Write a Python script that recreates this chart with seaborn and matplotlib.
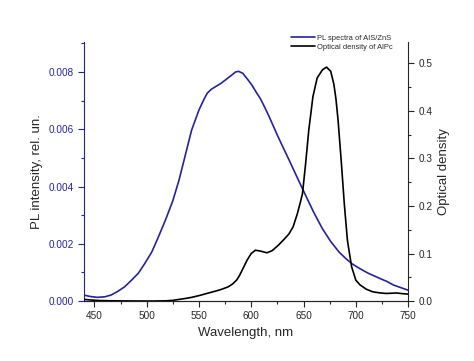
import numpy as np
import pandas as pd
import seaborn as sns
import matplotlib.pyplot as plt
from matplotlib.ticker import MultipleLocator

# PL spectrum of AIS/ZnS (left axis)
pl_wl = [440, 446, 453, 460, 466, 472, 479, 485, 492, 498, 505, 511, 518, 525,
         531, 537, 543, 550, 555, 558, 562, 566, 571, 576, 581, 585, 588, 592,
         597, 601, 605, 609, 613, 617, 621, 625, 630, 636, 644, 652, 660, 668,
         676, 684, 690, 696, 704, 712, 723, 730, 736, 743, 750]
pl_val = [0.00021, 0.00016, 0.00013, 0.00015, 0.00021, 0.00033, 0.00050, 0.00071,
          0.00097, 0.00130, 0.00172, 0.00222, 0.00283, 0.00350, 0.00423, 0.00510,
          0.00597, 0.00667, 0.00706, 0.00726, 0.00740, 0.00749, 0.00760, 0.00774,
          0.00788, 0.00800, 0.00802, 0.00795, 0.00772, 0.00752, 0.00728, 0.00705,
          0.00676, 0.00645, 0.00612, 0.00579, 0.00540, 0.00494, 0.00431, 0.00369,
          0.00308, 0.00253, 0.00208, 0.00171, 0.00150, 0.00131, 0.00113, 0.00097,
          0.00079, 0.00068, 0.00056, 0.00047, 0.00038]

# Optical density of AlPc (right axis)
od_wl = [440, 448, 456, 470, 490, 505, 518, 525, 531, 537, 543, 551, 560, 566,
         572, 578, 582, 586, 589, 592, 596, 600, 604, 609, 615, 620, 626, 631,
         636, 640, 644, 647, 649, 652, 655, 659, 663, 668, 672, 676, 679, 681,
         683, 686, 689, 692, 696, 700, 704, 710, 716, 722, 729, 734, 739, 745, 750]
od_val = [0.0035, 0.002, 0.001, 0.0005, 0.0002, 0.0001, 0.0005, 0.0015, 0.0035,
          0.0055, 0.0078, 0.0120, 0.0175, 0.0210, 0.0250, 0.0300, 0.0357, 0.0440,
          0.0546, 0.0680, 0.0860, 0.1000, 0.1070, 0.1050, 0.1015, 0.1060, 0.1176,
          0.1290, 0.1410, 0.1560, 0.1830, 0.2080, 0.2260, 0.2890, 0.3590, 0.4300,
          0.4690, 0.4860, 0.4920, 0.4830, 0.4560, 0.4250, 0.3810, 0.2960, 0.2040,
          0.1270, 0.0720, 0.0440, 0.0340, 0.0250, 0.0196, 0.0175, 0.0160, 0.0165,
          0.0170, 0.0155, 0.0147]

blue = "#24239c"

sns.set_style("ticks")
plt.rcParams["font.family"] = ["Liberation Sans", "DejaVu Sans"]

df_pl = pd.DataFrame({"wl": pl_wl, "val": pl_val})
df_od = pd.DataFrame({"wl": od_wl, "val": od_val})

fig = plt.figure(figsize=(4.74, 3.61), dpi=100)
ax = fig.add_axes([0.177, 0.166, 0.684, 0.718])
ax2 = ax.twinx()

sns.lineplot(data=df_pl, x="wl", y="val", ax=ax, color=blue, linewidth=1.2,
             label="PL spectra of AIS/ZnS", legend=False)
sns.lineplot(data=df_od, x="wl", y="val", ax=ax2, color="black", linewidth=1.2,
             label="Optical density of AlPc", legend=False)

ax.set_xlim(440, 750)
ax.set_ylim(0, 0.00905)
ax2.set_ylim(0, 0.545)

ax.xaxis.set_major_locator(MultipleLocator(50))
ax.xaxis.set_minor_locator(MultipleLocator(25))
ax.yaxis.set_major_locator(MultipleLocator(0.002))
ax.yaxis.set_minor_locator(MultipleLocator(0.001))
ax2.yaxis.set_major_locator(MultipleLocator(0.1))
ax2.yaxis.set_minor_locator(MultipleLocator(0.05))
ax.yaxis.set_major_formatter(plt.FormatStrFormatter("%.3f"))
ax2.yaxis.set_major_formatter(plt.FormatStrFormatter("%.1f"))

for a in (ax, ax2):
    a.spines["top"].set_visible(False)
    a.tick_params(which="major", direction="out", length=4, width=0.8, labelsize=7.2)
    a.tick_params(which="minor", direction="out", length=2.5, width=0.8)

ax.spines["left"].set_color(blue)
ax.tick_params(axis="y", which="both", colors=blue, labelcolor=blue)
ax2.spines["left"].set_visible(False)
ax.spines["right"].set_visible(False)

ax.set_xlabel("Wavelength, nm", fontsize=9.5, labelpad=4)
ax.set_ylabel("PL intensity, rel. un.", fontsize=9.5, labelpad=4)
ax2.set_ylabel("Optical density", fontsize=9.5, labelpad=4)

h1, l1 = ax.get_legend_handles_labels()
h2, l2 = ax2.get_legend_handles_labels()
fig.legend(h1 + h2, l1 + l2, loc="upper left", bbox_to_anchor=(0.605, 0.915),
           frameon=False, fontsize=5.4, handlelength=3.2, handletextpad=0.3,
           labelspacing=0.25, borderpad=0)

fig.savefig("out.png", dpi=100)
